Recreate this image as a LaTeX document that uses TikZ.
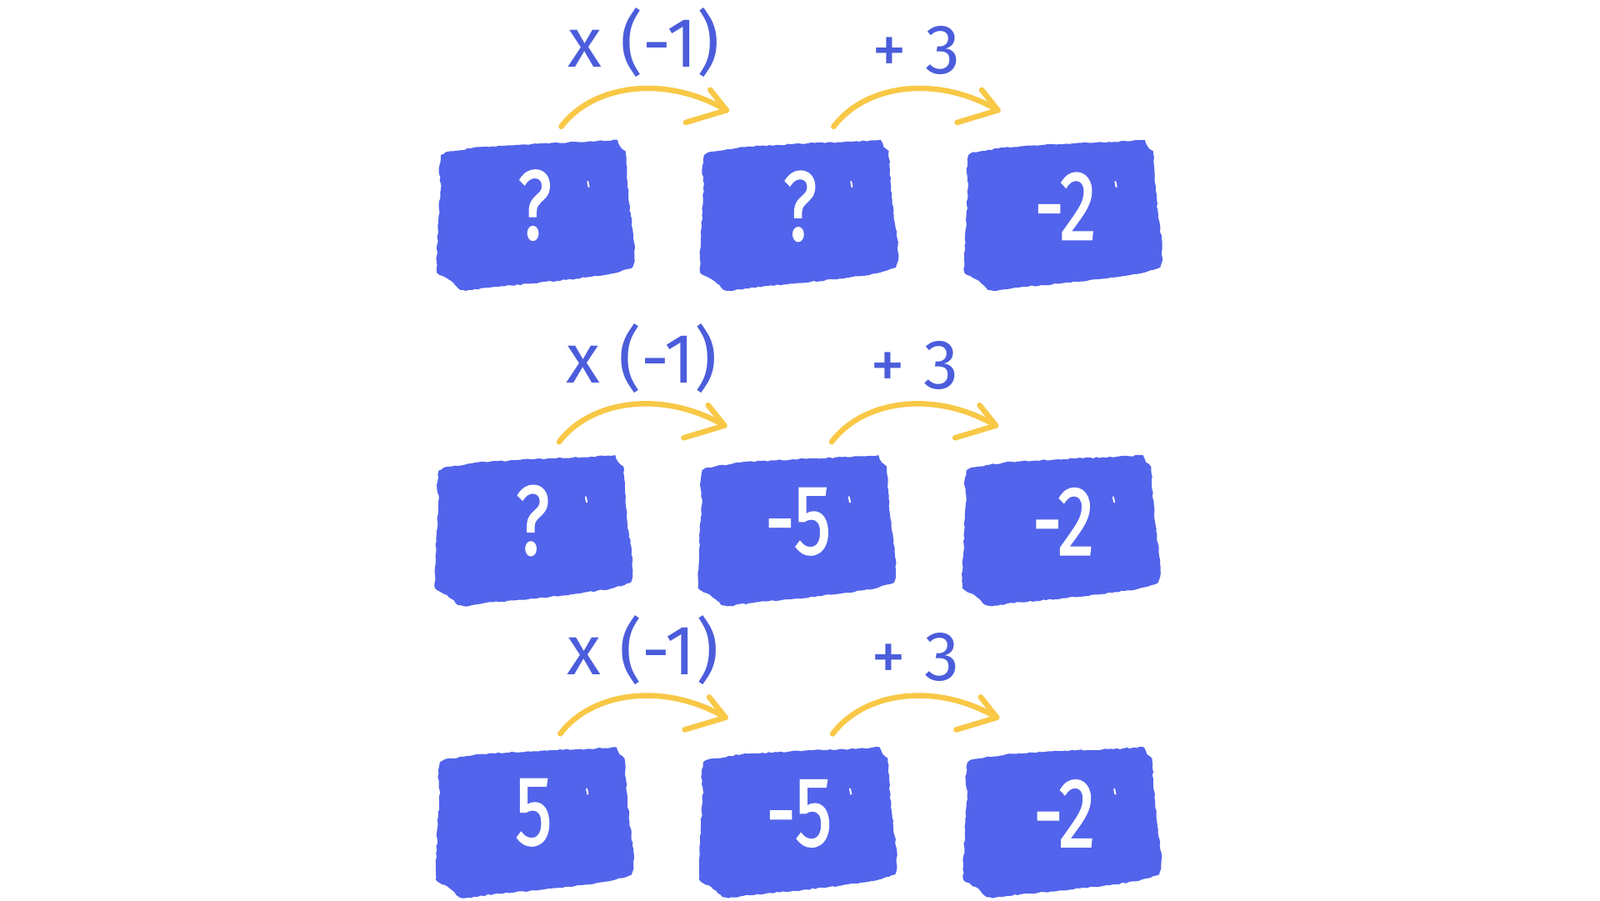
\documentclass[tikz,border=0pt]{standalone}
\usepackage{fontspec}
\usepackage{graphicx}
\setmainfont{Fira Sans}
\newfontfamily\boldnum[FakeBold=1.6]{Fira Sans}
\usetikzlibrary{decorations.pathmorphing}
\definecolor{boxblue}{HTML}{5264EB}
\definecolor{lblblue}{HTML}{4B5DDB}
\definecolor{arrowyellow}{HTML}{F8C846}
\tikzset{
  roughfill/.style={fill=boxblue, decorate, decoration={random steps,segment length=4pt,amplitude=0.8pt}},
  numtext/.style={text=white, font=\boldnum\fontsize{118}{120}\selectfont, inner sep=0pt},
  optext/.style={text=lblblue, font=\fontsize{84}{90}\selectfont, inner sep=0pt, anchor=base},
  yarrow/.style={draw=arrowyellow, line width=6.5pt, line cap=round, line join=round},
  whitetick/.style={draw=white, line width=2pt, line cap=round},
  pics/roughbox/.style={code={
    \fill[roughfill] (-93,-59) -- (-88,-62) -- (-80,-63) -- (-55,-67) -- (-20,-69) -- (15,-71) -- (50,-72)
      -- (80,-74) -- (83,-67) -- (88,-63) -- (90,-31) -- (93,0) -- (97,29) -- (97,45) -- (95,51)
      -- (75,57) -- (40,62) -- (-5,67) -- (-40,70) -- (-68,74) -- (-74,73) -- (-80,67) -- (-85,63)
      -- (-95,58) -- (-97,56) -- (-97,40) -- (-95,0) -- (-93,-31) -- (-95,-45) -- cycle;
    \draw[whitetick] (51,-33) -- (52,-28);
  }}
}
\newcommand{\makerow}[4]{%
  \pic at (525,211) {roughbox};
  \pic at (783,211) {roughbox};
  \pic at (1042,211) {roughbox};
  \node[numtext] (#1a) at (524,201) {\scalebox{0.75}[1]{#2}};
  \node[numtext] (#1b) at (784,202) {\scalebox{0.75}[1]{#3}};
  \node[numtext] (#1c) at (1044,202) {\scalebox{0.75}[1]{#4}};
  \node[optext] (#1m) at (631,66) {x (-1)};
  \node[optext] (#1p) at (898,72) {+ 3};
  \coordinate (#1s1) at (550,124);
  \coordinate (#1e1) at (712,108);
  \coordinate (#1s2) at (817,124);
  \coordinate (#1e2) at (978,108);
  \draw[yarrow] (#1s1) .. controls ([shift={(30,-40)}]#1s1) and ([shift={(-62,-36)}]#1e1) .. (#1e1);
  \draw[yarrow] ([shift={(-16,-20)}]#1e1) -- (#1e1) -- ([shift={(-40,12)}]#1e1);
  \draw[yarrow] (#1s2) .. controls ([shift={(30,-40)}]#1s2) and ([shift={(-62,-36)}]#1e2) .. (#1e2);
  \draw[yarrow] ([shift={(-16,-20)}]#1e2) -- (#1e2) -- ([shift={(-40,12)}]#1e2);
}
\begin{document}
\begin{tikzpicture}[x=1.2245pt,y=-1.2245pt]
  \fill[white] (0,0) rectangle (1568,882);
  \useasboundingbox (0,0) rectangle (1568,882);
  \begin{scope}
    \makerow{ra}{?}{?}{-2}
  \end{scope}
  \begin{scope}[shift={(-2,309)}]
    \makerow{rb}{?}{-5}{-2}
  \end{scope}
  \begin{scope}[shift={(-1,595)}]
    \makerow{rc}{5}{-5}{-2}
  \end{scope}
\end{tikzpicture}
\end{document}
